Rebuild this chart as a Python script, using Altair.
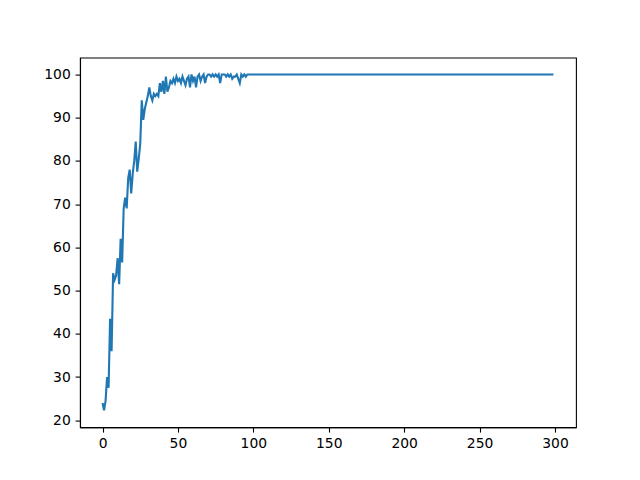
import altair as alt
import pandas as pd

early = [24.0, 22.3, 24.5, 30.0, 27.5, 43.5, 36.0, 54.0, 52.5, 53.5,
         57.5, 51.5, 62.0, 56.5, 69.0, 71.5, 69.0, 76.0, 78.0, 72.5,
         77.0, 80.0, 84.5, 77.5, 80.5, 84.0, 94.0, 89.5, 92.0, 93.5,
         95.0, 97.0, 95.0, 94.0, 95.5, 95.0, 95.5, 95.0, 98.0, 96.0,
         98.5, 95.5, 99.5, 96.0, 97.0, 98.5, 98.0, 99.0, 98.0, 99.5,
         98.5, 99.0, 98.0, 99.5, 98.5, 97.5, 99.0, 99.5, 97.0, 100.0,
         98.5, 99.5, 97.0, 99.5, 100.0, 98.5, 99.5, 100.0, 98.0, 99.5,
         100.0, 100.0, 99.5, 100.0, 99.5, 100.0, 99.5, 100.0, 98.0, 100.0,
         100.0, 100.0, 99.5, 100.0, 99.5, 100.0, 99.0, 99.5, 99.5, 100.0,
         99.0, 98.0, 100.0, 99.5, 100.0, 99.5, 100.0, 100.0, 100.0, 100.0]
late = [100.0] * 200
epochs = list(range(300))
values = early + late

df = pd.DataFrame({"x": epochs, "y": values})

axis_style = dict(title=None, grid=False, tickSize=4.9, tickColor="black", tickWidth=1.1,
                  domainColor="black", domainWidth=1.1,
                  labelFont="DejaVu Sans", labelFontSize=13.9, labelColor="black",
                  labelPadding=4.9, format="d")

chart = alt.Chart(df).mark_line(color="#1f77b4", strokeWidth=2.1).encode(
    x=alt.X("x:Q", scale=alt.Scale(domain=[-14.95, 313.95], nice=False, zero=False),
            axis=alt.Axis(values=[0, 50, 100, 150, 200, 250, 300], **axis_style)),
    y=alt.Y("y:Q", scale=alt.Scale(domain=[18.4, 103.9], nice=False, zero=False),
            axis=alt.Axis(values=[20, 30, 40, 50, 60, 70, 80, 90, 100], **axis_style)),
).properties(
    width=496, height=369.6,
    autosize=alt.AutoSizeParams(type="none"),
    padding={"left": 72, "top": 49.6, "right": 56, "bottom": 52},
).configure(
    background="white",
    view=alt.ViewConfig(stroke="black", strokeWidth=1.1),
)

chart.save("out.html", embed_options={"renderer": "svg", "actions": False})
